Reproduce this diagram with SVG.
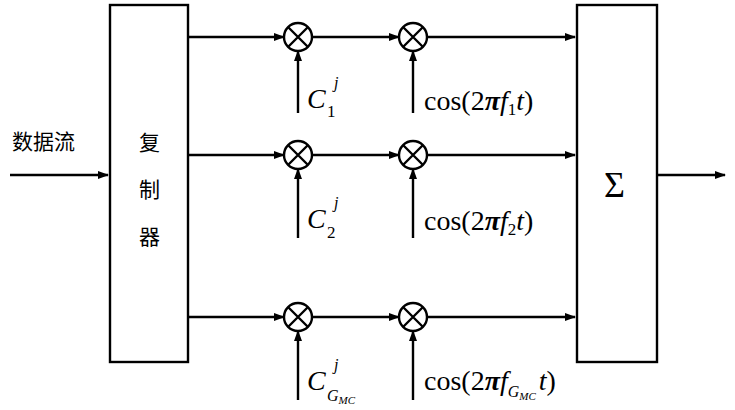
<svg xmlns="http://www.w3.org/2000/svg" width="735" height="410" viewBox="0 0 735 410">
<style>
.l{stroke:#000;stroke-width:2.4;fill:none}
.c{stroke:#000;stroke-width:2.4;fill:#fff}
text{font-family:"Times New Roman","Liberation Serif","DejaVu Serif",serif}
.t{font-size:28px}
.i{font-style:italic}
.z{font-family:"Noto Sans CJK SC","Noto Sans CJK JP",sans-serif;font-size:21px}
</style>
<defs>
<marker id="a" markerWidth="11" markerHeight="8" refX="10" refY="4" orient="auto" markerUnits="userSpaceOnUse"><path d="M0,0 L11,4 L0,8 Z"/></marker>
<g id="m"><circle class="c" r="14"/><path class="l" d="M-10,-10 L10,10 M-10,10 L10,-10"/></g>
</defs>
<g id="input"><text class="z" x="12" y="149">数据流</text></g>
<g id="replicator"><rect class="l" x="110" y="5" width="78" height="357"/>
<text class="z" x="139" y="150">复</text><text class="z" x="139" y="197">制</text><text class="z" x="139" y="244">器</text></g>
<g id="sum"><rect class="l" x="577" y="5" width="80" height="357"/><text x="604" y="197" font-size="36">Σ</text></g>
<g id="mult">
<use href="#m" x="298" y="37"/><use href="#m" x="413" y="37"/>
<use href="#m" x="298" y="155"/><use href="#m" x="413" y="155"/>
<use href="#m" x="298" y="317"/><use href="#m" x="413" y="317"/>
</g>
<g id="connectors" class="l" marker-end="url(#a)">
<path d="M10,175 H108"/><path d="M657,175 H725"/>
<path d="M188,37 H284"/><path d="M312,37 H399"/><path d="M427,37 H575"/>
<path d="M188,155 H284"/><path d="M312,155 H399"/><path d="M427,155 H575"/>
<path d="M188,317 H284"/><path d="M312,317 H399"/><path d="M427,317 H575"/>
<path d="M298,113 V51"/><path d="M413,113 V51"/>
<path d="M298,238 V169"/><path d="M413,238 V169"/>
<path d="M298,400 V331"/><path d="M413,400 V331"/>
</g>
<g id="labels">
<text class="i" x="307" y="108" font-size="28">C</text><text class="i" x="334" y="88" font-size="16">j</text><text x="327" y="117" font-size="17">1</text>
<text class="t" x="424" y="110">cos(2<tspan class="i" font-weight="bold">π</tspan><tspan class="i">f</tspan><tspan font-size="17" dy="5">1</tspan><tspan class="i" dy="-5">t</tspan>)</text>
<text class="i" x="307" y="228" font-size="28">C</text><text class="i" x="334" y="208" font-size="16">j</text><text x="327" y="238" font-size="17">2</text>
<text class="t" x="424" y="230">cos(2<tspan class="i" font-weight="bold">π</tspan><tspan class="i">f</tspan><tspan font-size="17" dy="5">2</tspan><tspan class="i" dy="-5">t</tspan>)</text>
<text class="i" x="307" y="390" font-size="28">C</text><text class="i" x="334" y="370" font-size="16">j</text><text class="i" x="327" y="401" font-size="16">G<tspan font-size="11" dy="3">MC</tspan></text>
<text class="t" x="424" y="390">cos(2<tspan class="i" font-weight="bold">π</tspan><tspan class="i">f</tspan><tspan class="i" font-size="16" dy="7">G</tspan><tspan class="i" font-size="11" dy="3">MC</tspan><tspan class="i" dy="-10" dx="3">t</tspan>)</text>
</g>
</svg>
